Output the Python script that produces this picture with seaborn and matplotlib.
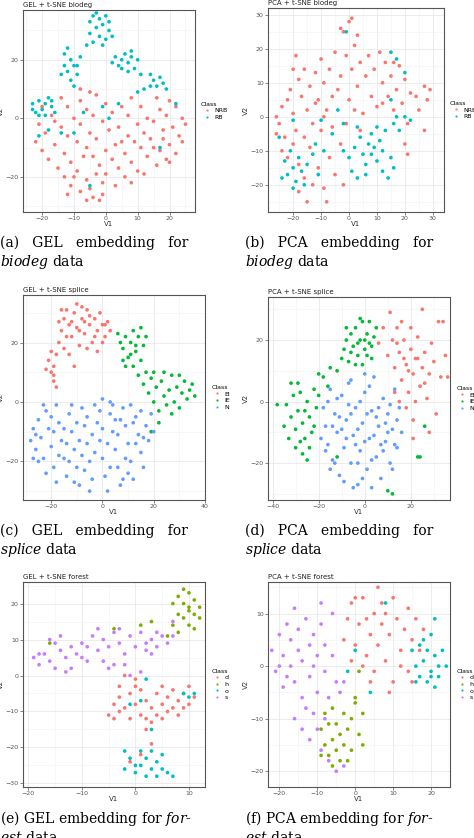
import numpy as np
import pandas as pd
import seaborn as sns
import matplotlib.pyplot as plt
from matplotlib.ticker import MultipleLocator, AutoMinorLocator

# hand-read point positions, one string per class
a_NRB = "-14,7 -8,6 -3,8 8,7 16,7 20,6 -20,4 -12,4 -6,3 0,5 5,4 11,4 17,3 22,4 -17,1 -10,0 -4,1 2,2 7,1 13,0 19,1 24,0 -21,-2 -14,-3 -8,-2 -1,-1 4,-3 10,-2 15,-1 21,-3 25,-2 -19,-5 -12,-6 -5,-5 1,-4 7,-6 12,-5 18,-4 23,-6 -22,-8 -16,-9 -9,-8 -3,-7 3,-9 9,-8 14,-7 20,-9 24,-8 -20,-11 -13,-12 -6,-10 0,-11 6,-12 11,-10 17,-11 22,-12 -18,-14 -11,-15 -4,-13 2,-14 8,-15 13,-13 19,-14 -15,-17 -9,-18 -2,-16 4,-17 10,-18 16,-16 20,-15 -13,-20 -6,-21 0,-19 6,-20 12,-19 -11,-23 -5,-24 -1,-22 3,-23 8,-22 -12,-26 -8,-25 -4,-27 -1,-26 -6,-28 -2,-28 -8,10 -5,9 -16,-1 -7,-13 5,-8 15,-10 -10,-20 -3,-19 18,-7"
a_RB = "-5,33 -4,35 -2,34 0,35 -3,31 -1,32 1,30 -5,29 -2,28 0,27 -4,26 -6,25 -1,25 1,33 -3,36 2,28 -13,22 -11,20 -10,18 -12,16 -9,15 -11,13 -13,18 -8,21 -10,11 -12,24 -9,18 -14,15 3,21 5,20 7,19 6,22 8,23 4,18 9,17 7,16 5,17 2,19 10,20 8,21 11,15 10,9 14,15 15,13 17,14 16,11 18,12 19,10 14,11 12,10 -23,5 -21,6 -20,3 -22,2 -19,5 -18,7 -17,4 -21,1 -23,3 -19,1 -17,6 -16,2 -14,-5 -10,-5 -21,-6 -18,-4 -7,2 -1,4 1,0 4,5 17,-10 22,5 -5,-23"
b_NRB = "-25,-2 -24,3 -26,0 -22,5 -23,-6 -21,8 -20,1 -19,-4 -18,11 -17,6 -16,14 -15,2 -14,9 -13,-2 -12,13 -11,5 -10,17 -9,10 -8,2 -7,14 -6,-3 -5,19 -4,8 -3,12 -2,25 -1,18 0,28 0,5 1,14 2,21 3,9 4,16 5,1 6,12 7,18 8,6 9,14 10,3 11,19 12,10 13,16 14,6 15,12 16,2 17,8 18,15 19,4 20,11 21,-2 22,7 20,-8 21,-11 24,6 27,9 28,5 29,8 27,-4 -24,-10 -22,-12 -20,-8 -18,-14 -16,-18 -18,-22 -15,-25 -13,-20 -11,-15 -9,-21 -7,-12 -5,-17 -3,-8 -10,-4 -14,-9 -8,-25 -2,-20 -12,4 -20,14 -6,6 2,2 -1,-2 4,-4 -16,-6 -9,0 3,24 -3,26 1,29 12,4 16,16 25,2 -26,-5 -19,18"
b_RB = "-25,-6 -23,-13 -22,-17 -24,-18 -20,-15 -19,-19 -21,-10 -17,-16 -18,-12 -15,-14 -16,-20 -13,-11 -11,-17 -9,-10 -20,-21 -2,-10 0,-12 1,-16 3,-18 2,-9 4,-6 5,-11 6,-14 7,-8 8,-5 8,-11 9,-9 10,-13 10,-3 11,-7 12,-16 12,-10 13,-4 14,-18 15,-12 16,-15 16,-2 17,0 18,-4 15,19 17,17 20,13 20,0 -2,-2 -4,2 -6,-5 -10,-1 15,5 22,-1 -20,-1 -12,-8 6,-17 3,-3 -1,25"
c_EI = "-21,14 -20,10 -19,7 -18,5 -22,11 -19,12 -18,16 -17,20 -16,24 -15,28 -14,31 -13,26 -12,22 -11,30 -10,33 -10,25 -9,19 -8,28 -7,23 -6,31 -5,26 -4,20 -3,28 -2,24 -1,30 0,26 1,22 2,27 -15,18 -13,16 -11,12 -16,31 -8,32 -6,18 -3,22 -12,27 -14,22 -9,24 -17,27 -5,29 1,26 3,24 -20,17 -19,9 0,20 -7,27 -2,17"
c_IE = "6,23 7,20 8,18 9,22 10,15 11,20 12,12 13,17 14,22 15,14 16,19 17,10 9,12 12,24 14,9 11,16 16,6 18,3 19,8 20,0 21,5 22,-3 23,7 24,2 25,-1 26,4 27,9 28,0 29,5 30,-2 31,3 32,7 33,1 34,4 35,6 24,10 27,-4 20,10 22,-7 19,-10 30,9 13,19 8,14 15,25 17,22 36,2"
c_N = "-28,-13 -27,-9 -26,-16 -25,-6 -24,-12 -23,-19 -22,-3 -21,-9 -20,-15 -19,-22 -18,-1 -17,-7 -16,-13 -15,-19 -14,-25 -13,-4 -12,-10 -11,-16 -10,-22 -9,-28 -8,-2 -7,-8 -6,-14 -5,-20 -4,-26 -3,-1 -2,-7 -1,-13 0,-19 1,-25 2,-30 3,-4 4,-10 5,-16 6,-22 7,-28 8,-2 9,-8 10,-14 11,-20 12,-26 13,-5 14,-11 15,-17 16,-22 17,-8 18,-13 19,-4 20,-10 -25,-20 -22,-24 -18,-27 -15,-9 -12,-1 -9,-13 -6,-5 -3,-17 0,-9 3,-22 6,-11 9,-19 12,-7 15,-3 -20,-5 -17,-18 -11,-27 -5,-30 2,-14 8,-26 11,-1 -27,-19 -23,-1 -14,-14 -8,-18 -1,-3 4,-1 7,-6 10,-24 13,-14 -26,-11 0,1 3,0 -19,-10 -10,-7 -4,-11 5,-6 16,-12 -13,-20 -7,-23"
d_EI = "6,19 8,24 10,15 11,29 12,20 13,11 14,24 15,16 16,7 17,20 18,12 19,3 20,17 21,9 22,14 23,21 24,5 25,11 26,16 27,1 28,9 29,19 30,13 31,-4 32,26 33,8 35,15 13,3 15,0 18,-2 21,-6 16,26 20,24 22,0 25,30 19,10 23,14 17,14 14,19 26,6 34,26 28,-10 21,-12 36,8"
d_IE = "-10,14 -9,17 -8,20 -7,13 -6,22 -5,18 -4,24 -3,15 -2,20 -1,26 0,17 1,22 2,19 3,14 4,21 5,24 -4,12 -1,12 2,26 -6,16 -3,19 0,20 3,18 -8,24 -2,27 1,15 -34,-1 -32,-5 -31,2 -30,-9 -29,-3 -28,3 -27,-7 -26,-12 -25,0 -24,-5 -23,-10 -22,4 -21,-2 -20,2 -28,-13 -30,-15 -27,-17 -24,-15 -26,-3 -22,-8 -33,-12 -38,-1 -29,6 -18,8 -15,11 -12,10 -16,5 -20,9 -32,6 -25,-19 -35,-8 10,-29 12,-30 24,-18 26,-8 23,-18 -12,-18"
d_N = "-18,-2 -17,-8 -16,-14 -15,4 -14,-19 -13,-4 -12,-10 -11,-24 -10,2 -9,-15 -8,-6 -7,6 -6,-20 -5,-11 -4,-2 -3,-27 -2,-16 -1,-7 0,3 1,-22 2,-12 3,-3 4,8 5,-18 6,-8 7,-25 8,1 9,-13 10,-4 11,-20 12,-9 13,4 14,-15 15,-2 16,-10 -19,-12 -16,0 -13,-20 -10,-9 -7,-1 -4,-14 -1,-25 2,5 5,-5 8,-16 11,-1 14,-6 -15,-22 -12,1 -9,-26 -6,-4 -3,-9 0,-13 3,-19 6,-2 9,-7 12,-22 -11,-5 -8,-12 -5,-28 -2,0 1,-4 4,-11 7,-14 10,-10 -17,-16 -14,-8 -6,7 0,9 -3,-20 3,-28 13,-14"
e_d = "-5,-11 -4,-8 -4,-12 -3,-6 -3,-10 -2,-9 -1,-12 -1,-5 0,-8 1,-11 1,-4 2,-7 2,-12 3,-9 4,-5 4,-11 5,-8 5,-3 6,-10 6,-6 7,-4 7,-9 8,-7 8,-11 9,-5 9,-9 10,-3 10,-8 11,-6 -3,-3 -2,0 0,-1 3,-13 2,-15 3,-19 -1,-24 1,-22 0,-3 5,-12"
e_h = "7,14 8,22 9,20 9,16 10,23 10,18 11,21 11,13 12,16 8,12 10,14 9,24 12,19 11,17 7,20 10,19 1,14 3,15 -4,13 -16,9 6,11 8,17"
e_o = "-2,-26 -1,-23 0,-27 1,-21 1,-25 2,-28 2,-23 3,-26 3,-21 4,-24 4,-28 5,-22 5,-26 6,-27 -2,-21 0,-25 3,-15 7,-28 -1,-8 2,-1 9,-5 10,-6 11,-5 1,-7"
e_s = "-19,5 -18,3 -17,6 -16,4 -15,9 -15,2 -14,7 -13,5 -12,8 -12,2 -11,6 -10,9 -9,4 -8,11 -7,7 -6,10 -6,4 -5,8 -4,12 -4,3 -3,9 -2,6 -1,11 0,8 1,12 2,7 3,10 4,8 5,11 6,9 7,11 -16,10 -14,11 -9,8 -7,13 -2,3 3,6 4,12 -18,6 -13,1 -10,5 -5,2 2,9 -1,0 1,1 -3,13 7,15"
f_d = "-3,5 -2,9 -1,12 0,4 1,8 2,13 3,2 4,6 5,10 5,-1 6,4 7,12 7,8 8,1 9,6 10,13 10,-3 11,9 12,3 13,7 14,11 14,-1 15,5 16,9 17,3 18,7 9,-5 4,-3 -1,1 2,0 6,15 0,13 12,0 15,-3 8,10 3,9"
f_h = "-9,-12 -8,-15 -8,-9 -7,-17 -7,-11 -6,-14 -6,-8 -5,-16 -5,-11 -4,-13 -4,-18 -3,-9 -3,-15 -2,-12 -1,-10 -1,-16 0,-7 1,-13 2,-9 2,-15 -9,-17 -6,-19 -2,-18 1,-1 0,-6"
f_o = "15,3 16,0 17,-2 17,4 18,1 19,-3 19,3 20,6 20,-1 21,2 21,-4 22,0 23,3 22,-2 18,5 16,-3 20,-2 24,0 21,9 8,12 0,3 -2,-1 4,-5"
f_s = "-22,3 -21,-1 -20,6 -19,2 -19,-4 -18,8 -17,0 -17,5 -16,-3 -15,3 -15,7 -14,-6 -14,1 -13,9 -12,4 -12,-2 -11,6 -10,-5 -10,2 -9,8 -8,-1 -8,4 -7,-6 -6,2 -6,10 -5,-3 -4,-5 -3,-3 -16,-10 -14,-12 -13,-8 -12,-14 -11,-9 -8,-10 -9,-16 -10,-12 -7,-18 -5,-20 -3,-19 -18,-2 -20,0 -16,11 -11,0 -9,12"

pal2 = ["#F8766D", "#00BFC4"]
pal3 = ["#F8766D", "#00BA38", "#619CFF"]
pal4 = ["#F8766D", "#7CAE00", "#00BFC4", "#C77CFF"]


def frame(classes):
    rows = []
    for name, s in classes:
        for p in s.split():
            x, y = p.split(',')
            rows.append((float(x), float(y), name))
    return pd.DataFrame(rows, columns=["V1", "V2", "Class"])


panels = [
    ("GEL + t-SNE biodeg", [("NRB", a_NRB), ("RB", a_RB)], pal2, (-26, 28), (-32, 37), 10, 20),
    ("PCA + t-SNE biodeg", [("NRB", b_NRB), ("RB", b_RB)], pal2, (-29, 34), (-28, 32), 10, 10),
    ("GEL + t-SNE splice", [("EI", c_EI), ("IE", c_IE), ("N", c_N)], pal3, (-31, 40), (-33, 36), 20, 20),
    ("PCA + t-SNE splice", [("EI", d_EI), ("IE", d_IE), ("N", d_N)], pal3, (-42, 37), (-32, 34), 20, 20),
    ("GEL + t-SNE forest", [("d", e_d), ("h", e_h), ("o", e_o), ("s", e_s)], pal4, (-21, 13), (-31, 26), 10, 10),
    ("PCA + t-SNE forest", [("d", f_d), ("h", f_h), ("o", f_o), ("s", f_s)], pal4, (-23, 25), (-23, 16), 10, 10),
]

# axes boxes in pixels: left, top, right, bottom
boxes = [(23, 10, 195, 212), (268, 8, 444, 212),
         (23, 295, 205, 500), (268, 297, 450, 500),
         (23, 582, 205, 787), (268, 582, 450, 787)]
captions = [("(a)   GEL   embedding   for", "biodeg"), ("(b)   PCA   embedding   for", "biodeg"),
            ("(c)   GEL   embedding   for", "splice"), ("(d)   PCA   embedding   for", "splice"),
            ("(e) GEL embedding for $\\it{for}$-", "est"), ("(f) PCA embedding for $\\it{for}$-", "est")]

W, H = 474, 838
fig = plt.figure(figsize=(W / 100, H / 100), dpi=100)
plt.rcParams['mathtext.fontset'] = 'dejavuserif'

for i, (title, classes, pal, xl, yl, xs, ys) in enumerate(panels):
    l, t, r, b = boxes[i]
    ax = fig.add_axes([l / W, 1 - b / H, (r - l) / W, (b - t) / H])
    df = frame(classes)
    sns.scatterplot(data=df, x="V1", y="V2", hue="Class", palette=pal, s=7,
                    linewidth=0, ax=ax, zorder=3)
    ax.set_xlim(xl)
    ax.set_ylim(yl)
    ax.xaxis.set_major_locator(MultipleLocator(xs))
    ax.yaxis.set_major_locator(MultipleLocator(ys))
    ax.xaxis.set_minor_locator(AutoMinorLocator(2))
    ax.yaxis.set_minor_locator(AutoMinorLocator(2))
    ax.grid(which='major', color='#E5E5E5', lw=0.5)
    ax.grid(which='minor', color='#F2F2F2', lw=0.4)
    ax.set_axisbelow(True)
    for sp in ax.spines.values():
        sp.set_color('#555555')
        sp.set_linewidth(0.8)
    ax.tick_params(labelsize=4.5, colors='#555555', length=2, width=0.5, pad=1)
    ax.tick_params(which='minor', length=0)
    ax.set_xlabel("V1", fontsize=5, color='#333333', labelpad=0)
    ax.set_ylabel("V2", fontsize=5, color='#333333', labelpad=1)
    ax.set_title(title, fontsize=5, loc='left', pad=2, color='#222222')
    ax.legend(title="Class", loc='center left', bbox_to_anchor=(1.02, 0.5), frameon=False,
              fontsize=4.5, title_fontsize=4.5, markerscale=0.6, handletextpad=0.1,
              labelspacing=0.2, borderaxespad=0, alignment='left')
    cx = 0 if i % 2 == 0 else 245
    cy = b + 31
    fig.text(cx / W, 1 - cy / H, captions[i][0], fontsize=10, family='DejaVu Serif', va='center')
    fig.text(cx / W, 1 - (cy + 19) / H, "$\\it{" + captions[i][1] + "}$ data", fontsize=10,
             family='DejaVu Serif', va='center')

fig.savefig("out.png", dpi=100)
